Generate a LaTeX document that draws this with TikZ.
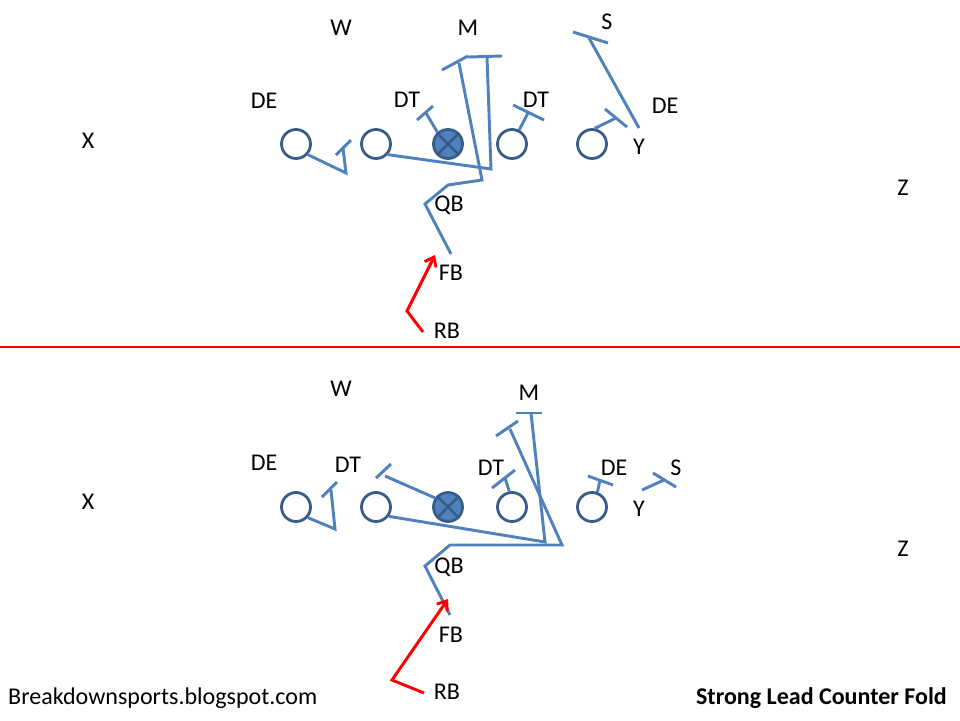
\documentclass[tikz,border=0pt]{standalone}
\usepackage{fontspec}
\setmainfont{Carlito}
\usetikzlibrary{arrows.meta}

\definecolor{routeblue}{HTML}{4F81BD}
\definecolor{rimblue}{HTML}{385D8A}
\definecolor{leadred}{HTML}{FF0000}

\begin{document}
\begin{tikzpicture}[x=0.03cm, y=-0.03cm,
                    font=\fontsize{20.5}{24}\selectfont,
                    every node/.style={inner sep=0pt},
                    lineman/.style={circle, draw=rimblue, line width=2.4pt,
                                    minimum size=0.87cm},
                    snapper/.style={lineman, fill=routeblue},
                    route/.style={draw=routeblue, line width=2.5pt},
                    lead/.style={draw=leadred, line width=2.5pt,
                                 -{Straight Barb[length=7pt, width=11pt]}}]
    \useasboundingbox (0,0) rectangle (960,720);

    % offensive line, both plays
    \foreach \row/\yy in {a/144, b/507} {
        \node[lineman] (\row1) at (296,\yy) {};
        \node[lineman] (\row2) at (376,\yy) {};
        \node[snapper] (\row3) at (448,\yy) {};
        \node[lineman] (\row4) at (512,\yy) {};
        \node[lineman] (\row5) at (592,\yy) {};
        \draw[rimblue, line width=2.4pt] (\row3.45) -- (\row3.225)
                                         (\row3.135) -- (\row3.-45);
    }

    % top play
    \node (xa) at (88,141) {X};
    \node (wa) at (341,28) {W};
    \node (ma) at (468,28) {M};
    \node (sa) at (607,22) {S};
    \node (dea1) at (264,101) {DE};
    \node (dta1) at (407,100) {DT};
    \node (dta2) at (536,100) {DT};
    \node (dea2) at (665,106) {DE};
    \node (ya) at (639,147) {Y};
    \node (za) at (903,188) {Z};
    \node (qba) at (449,205) {QB};
    \node (fba) at (451,273) {FB};
    \node (rba) at (447,331) {RB};

    \draw[route] (a1.-42) -- (346,173) -- (343,148);
    \draw[route] (336,155) -- (351,140);
    \draw[route] (a2.-42) -- (491,169) -- (487,57);
    \draw[route] (468,57) -- (502,56);
    \draw[route] (a3.132) -- (426,113);
    \draw[route] (417,120) -- (433,106);
    \draw[route] (a4.63) -- (528,113);
    \draw[route] (513,105) -- (544,120);
    \draw[route] (a5.80) -- (616,118);
    \draw[route] (605,109) -- (627,127);
    \coordinate (ystart) at (639,128);
    \draw[route] (ystart) -- (589,38);
    \draw[route] (573,32) -- (608,43);
    \coordinate (fbstart) at (451,254);
    \draw[route] (fbstart) -- (425,204) -- (448,185) -- (482,180) -- (459,63);
    \draw[route] (442,70) -- (468,56);
    \coordinate (rbstart) at (423,332);
    \draw[lead] (rbstart) -- (407,311) -- (435,255);

    % split
    \coordinate (splitL) at (0,347);
    \coordinate (splitR) at (960,347);
    \draw[leadred, line width=2.5pt] (splitL) -- (splitR);

    % bottom play
    \node (xb) at (88,502) {X};
    \node (wb) at (341,389) {W};
    \node (mb) at (529,393) {M};
    \node (deb1) at (264,463) {DE};
    \node (dtb1) at (348,465) {DT};
    \node (dtb2) at (491,468) {DT};
    \node (deb2) at (614,468) {DE};
    \node (sb) at (676,468) {S};
    \node (yb) at (639,509) {Y};
    \node (zb) at (903,549) {Z};
    \node (qbb) at (449,567) {QB};
    \node (fbb) at (451,635) {FB};
    \node (rbb) at (447,692) {RB};

    \draw[route] (b1.-42) -- (335,529) -- (331,490);
    \draw[route] (322,497) -- (337,482);
    \draw[route] (b2.-36) -- (545,542) -- (531,413);
    \draw[route] (516,413) -- (542,413);
    \draw[route] (b3.145) -- (385,476);
    \draw[route] (376,478) -- (391,464);
    \draw[route] (b4.100) -- (505,478);
    \draw[route] (492,488) -- (515,470);
    \draw[route] (b5.70) -- (600,480);
    \draw[route] (588,476) -- (613,485);
    \coordinate (ybstart) at (642,490);
    \draw[route] (ybstart) -- (664,480);
    \draw[route] (653,473) -- (676,487);
    \coordinate (fbbstart) at (450,615);
    \draw[route] (fbbstart) -- (425,566) -- (450,545) -- (562,545) -- (510,429);
    \draw[route] (496,436) -- (518,421);
    \coordinate (rbbstart) at (424,693);
    \draw[lead] (rbbstart) -- (392,680) -- (448,599);

    % footer
    \node[anchor=west] (site) at (8,698) {Breakdownsports.blogspot.com};
    \node[anchor=east, font=\fontsize{20.5}{24}\selectfont\bfseries] (play) at (947,698)
        {Strong Lead Counter Fold};
\end{tikzpicture}
\end{document}
